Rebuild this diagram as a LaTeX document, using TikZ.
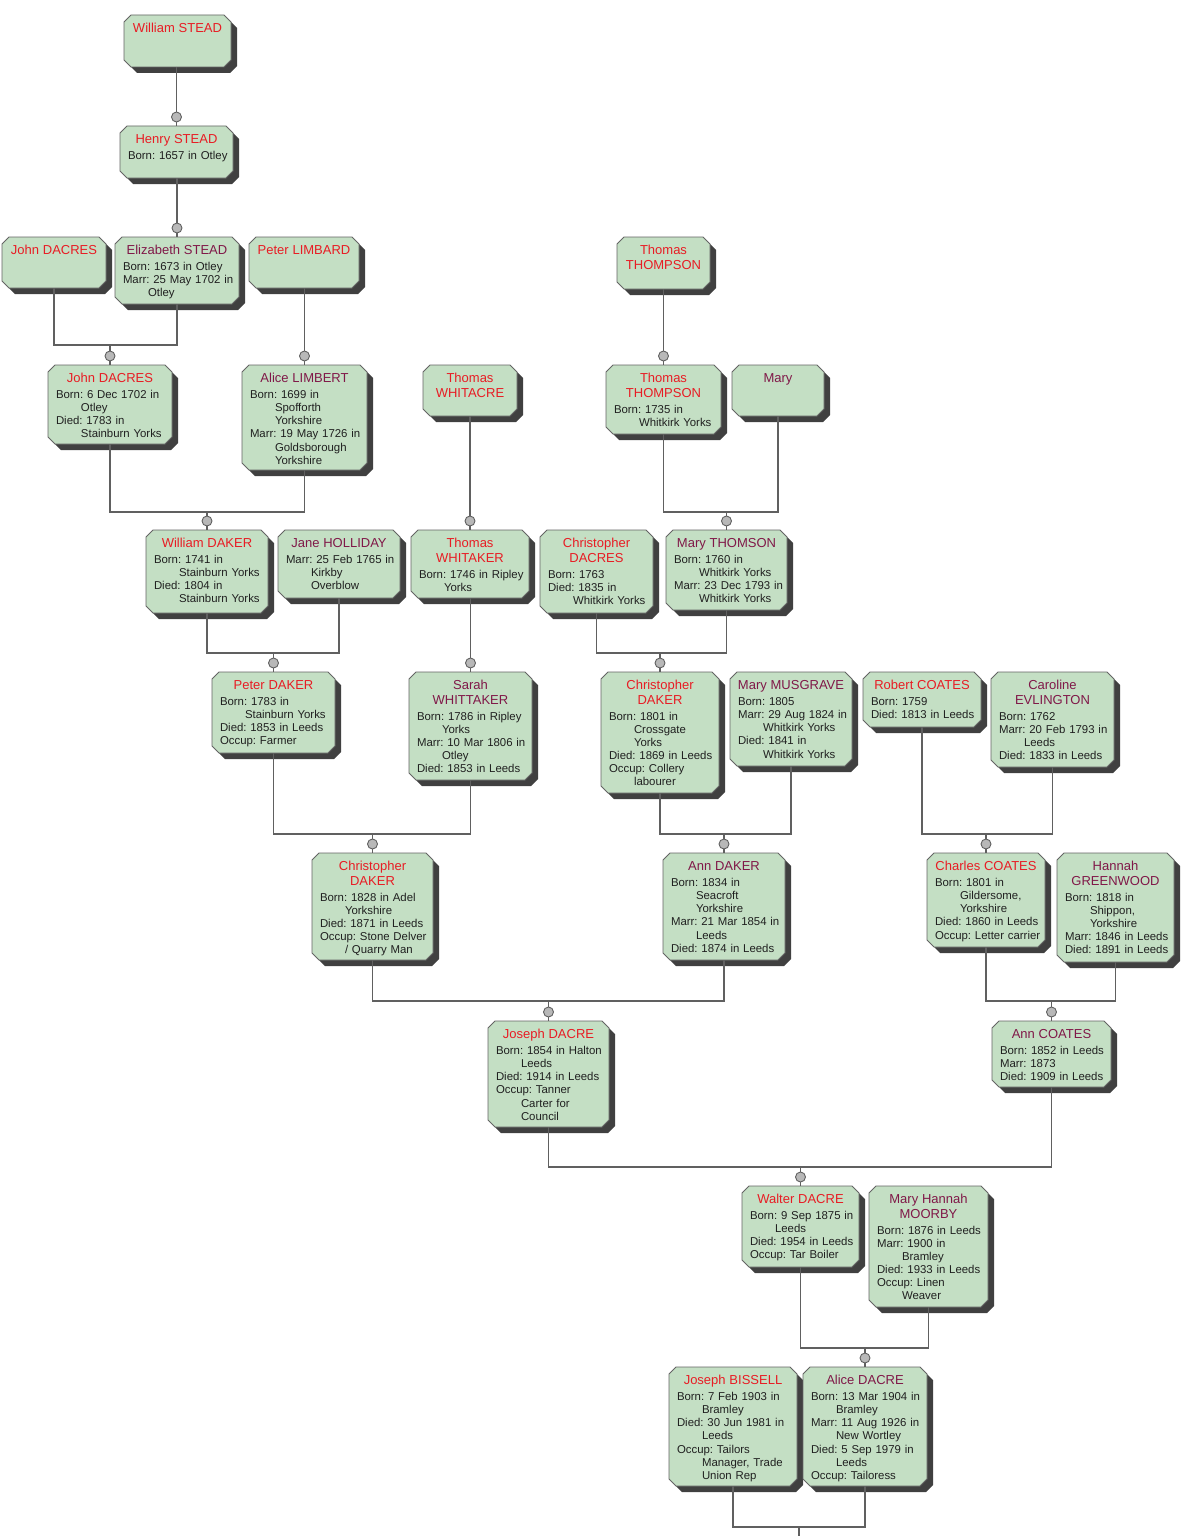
\documentclass[tikz,border=0pt]{standalone}
\usepackage{fontspec}
\setmainfont{Liberation Sans}
\definecolor{malec}{RGB}{232,28,36}
\definecolor{femc}{RGB}{128,24,72}
\definecolor{bodyc}{RGB}{32,32,32}
\definecolor{boxfill}{RGB}{196,223,196}
\definecolor{boxline}{RGB}{100,100,100}
\definecolor{shadowc}{RGB}{64,64,64}
\definecolor{connc}{RGB}{96,96,96}
\definecolor{dotfill}{RGB}{184,184,184}
\newcommand\indt{\hspace*{25pt}}
\newcommand\octa[4]{(#1+7,#2) -- (#3-7,#2) -- (#3,#2+7) -- (#3,#4-7) -- (#3-7,#4) -- (#1+7,#4) -- (#1,#4-7) -- (#1,#2+7) -- cycle}
\newcommand\person[8]{%
  \pgfmathsetmacro\pbW{#4-#2}%
  \pgfmathsetmacro\pbH{#5-#3}%
  \pgfmathsetmacro\pbT{#4-#2+80}%
  \pgfmathsetmacro\pbX{(#2+#4)/2}%
  \pgfmathsetmacro\pbY{(#3+#5)/2}%
  \fill[shadowc, shift={(6,6)}] \octa{#2}{#3}{#4}{#5};
  \filldraw[fill=boxfill, draw=boxline, line width=0.8pt] \octa{#2}{#3}{#4}{#5};
  \node[pbox, minimum width=\pbW pt, minimum height=\pbH pt] (#1) at (\pbX,\pbY) {};
  \node[ptext, text width=\pbT pt] (#1-t) at (\pbX,#3+17.6) {{\fontsize{13}{14.7}\selectfont\centering\color{#6}#7\par}\vskip2.9pt{\raggedright\leftskip=48pt #8\par}};
}
\newcommand\couple[5]{%
  \coordinate (#1) at (#4.north |- 0,#5);
  \draw[conn] (#2.south) |- (#1) -| (#3.south);
  \draw[conn] (#1) -- (#4.north);
}
\newcommand\single[2]{%
  \draw[conn] (#2.north |- #1.south) -- (#2.north);
}
\newcommand\pdot[1]{%
  \node[pdotstyle] (#1-d) at ([yshift=9pt]#1.north) {};
}
\begin{document}
\begin{tikzpicture}[x=1pt,y=-1pt,
  pbox/.style={rectangle, draw=none, fill=none, inner sep=0pt, outer sep=0pt},
  ptext/.style={inner sep=0pt, anchor=base, text=bodyc, font=\fontsize{11.4}{13.1}\selectfont\frenchspacing},
  conn/.style={draw=connc, line width=1.4pt},
  pdotstyle/.style={circle, minimum size=10pt, inner sep=0pt, fill=dotfill, draw=connc, line width=0.9pt}]
\useasboundingbox (0,0) rectangle (1185,1536);

\person{ws}{124}{15}{231}{67}{malec}{William STEAD}{}
\person{hs}{120}{126}{233}{178}{malec}{Henry STEAD}{Born: 1657 in Otley}
\person{jdA}{2}{237}{106}{288}{malec}{John DACRES}{}
\person{es}{115}{237}{239}{304}{femc}{Elizabeth STEAD}{Born: 1673 in Otley\\Marr: 25 May 1702 in\\\indt Otley}
\person{pl}{249}{237}{359}{288}{malec}{Peter LIMBARD}{}
\person{ttA}{617}{237}{710}{289}{malec}{Thomas\\THOMPSON}{}
\person{jdB}{48}{365}{172}{444}{malec}{John DACRES}{Born: 6 Dec 1702 in\\\indt Otley\\Died: 1783 in\\\indt Stainburn Yorks}
\person{al}{242}{365}{367}{470}{femc}{Alice LIMBERT}{Born: 1699 in\\\indt Spofforth\\\indt Yorkshire\\Marr: 19 May 1726 in\\\indt Goldsborough\\\indt Yorkshire}
\person{twA}{423}{365}{517}{416}{malec}{Thomas\\WHITACRE}{}
\person{ttB}{606}{365}{721}{434}{malec}{Thomas\\THOMPSON}{Born: 1735 in\\\indt Whitkirk Yorks}
\person{mary}{732}{365}{824}{416}{femc}{Mary}{}
\person{wd}{146}{530}{268}{613}{malec}{William DAKER}{Born: 1741 in\\\indt Stainburn Yorks\\Died: 1804 in\\\indt Stainburn Yorks}
\person{jh}{278}{530}{400}{598}{femc}{Jane HOLLIDAY}{Marr: 25 Feb 1765 in\\\indt Kirkby\\\indt Overblow}
\person{twB}{411}{530}{529}{598}{malec}{Thomas\\WHITAKER}{Born: 1746 in Ripley\\\indt Yorks}
\person{cdA}{540}{530}{653}{613}{malec}{Christopher\\DACRES}{Born: 1763\\Died: 1835 in\\\indt Whitkirk Yorks}
\person{mt}{666}{530}{787}{610}{femc}{Mary THOMSON}{Born: 1760 in\\\indt Whitkirk Yorks\\Marr: 23 Dec 1793 in\\\indt Whitkirk Yorks}
\person{pd}{212}{672}{335}{753}{malec}{Peter DAKER}{Born: 1783 in\\\indt Stainburn Yorks\\Died: 1853 in Leeds\\Occup: Farmer}
\person{sw}{409}{672}{532}{780}{femc}{Sarah\\WHITTAKER}{Born: 1786 in Ripley\\\indt Yorks\\Marr: 10 Mar 1806 in\\\indt Otley\\Died: 1853 in Leeds}
\person{cdB}{601}{672}{719}{793}{malec}{Christopher\\DAKER}{Born: 1801 in\\\indt Crossgate\\\indt Yorks\\Died: 1869 in Leeds\\Occup: Collery\\\indt labourer}
\person{mm}{730}{672}{852}{766}{femc}{Mary MUSGRAVE}{Born: 1805\\Marr: 29 Aug 1824 in\\\indt Whitkirk Yorks\\Died: 1841 in\\\indt Whitkirk Yorks}
\person{rc}{863}{672}{981}{727}{malec}{Robert COATES}{Born: 1759\\Died: 1813 in Leeds}
\person{ce}{991}{672}{1114}{767}{femc}{Caroline\\EVLINGTON}{Born: 1762\\Marr: 20 Feb 1793 in\\\indt Leeds\\Died: 1833 in Leeds}
\person{cdC}{312}{853}{433}{960}{malec}{Christopher\\DAKER}{Born: 1828 in Adel\\\indt Yorkshire\\Died: 1871 in Leeds\\Occup: Stone Delver\\\indt / Quarry Man}
\person{ad}{663}{853}{785}{960}{femc}{Ann DAKER}{Born: 1834 in\\\indt Seacroft\\\indt Yorkshire\\Marr: 21 Mar 1854 in\\\indt Leeds\\Died: 1874 in Leeds}
\person{cc}{927}{853}{1045}{947}{malec}{Charles COATES}{Born: 1801 in\\\indt Gildersome,\\\indt Yorkshire\\Died: 1860 in Leeds\\Occup: Letter carrier}
\person{hg}{1057}{853}{1174}{962}{femc}{Hannah\\GREENWOOD}{Born: 1818 in\\\indt Shippon,\\\indt Yorkshire\\Marr: 1846 in Leeds\\Died: 1891 in Leeds}
\person{jdc}{488}{1021}{609}{1127}{malec}{Joseph DACRE}{Born: 1854 in Halton\\\indt Leeds\\Died: 1914 in Leeds\\Occup: Tanner\\\indt Carter for\\\indt Council}
\person{ac}{992}{1021}{1111}{1087}{femc}{Ann COATES}{Born: 1852 in Leeds\\Marr: 1873\\Died: 1909 in Leeds}
\person{wdc}{742}{1186}{859}{1267}{malec}{Walter DACRE}{Born: 9 Sep 1875 in\\\indt Leeds\\Died: 1954 in Leeds\\Occup: Tar Boiler}
\person{mhm}{869}{1186}{988}{1307}{femc}{Mary Hannah\\MOORBY}{Born: 1876 in Leeds\\Marr: 1900 in\\\indt Bramley\\Died: 1933 in Leeds\\Occup: Linen\\\indt Weaver}
\person{jb}{669}{1367}{797}{1486}{malec}{Joseph BISSELL}{Born: 7 Feb 1903 in\\\indt Bramley\\Died: 30 Jun 1981 in\\\indt Leeds\\Occup: Tailors\\\indt Manager, Trade\\\indt Union Rep}
\person{adc}{803}{1367}{927}{1486}{femc}{Alice DACRE}{Born: 13 Mar 1904 in\\\indt Bramley\\Marr: 11 Aug 1926 in\\\indt New Wortley\\Died: 5 Sep 1979 in\\\indt Leeds\\Occup: Tailoress}

% connectors
\single{ws}{hs}
\single{hs}{es}
\single{pl}{al}
\single{twA}{twB}
\single{ttA}{ttB}
\single{twB}{sw}
\couple{j1}{jdA}{es}{jdB}{345}
\couple{j2}{jdB}{al}{wd}{512}
\couple{j3}{ttB}{mary}{mt}{512}
\couple{j4}{wd}{jh}{pd}{653}
\couple{j5}{cdA}{mt}{cdB}{653}
\couple{j6}{pd}{sw}{cdC}{834}
\couple{j7}{cdB}{mm}{ad}{834}
\couple{j8}{rc}{ce}{cc}{834}
\couple{j9}{cdC}{ad}{jdc}{1001}
\couple{j10}{cc}{hg}{ac}{1001}
\couple{j11}{jdc}{ac}{wdc}{1167}
\couple{j12}{wdc}{mhm}{adc}{1348}
\coordinate (j13) at (799,1527);
\coordinate (nextgen) at (799,1540);
\draw[conn] (jb.south) |- (j13) -| (adc.south);
\draw[conn] (j13) -- (nextgen);

% dots
\pdot{hs}\pdot{es}\pdot{jdB}\pdot{al}\pdot{twB}\pdot{ttB}
\pdot{wd}\pdot{mt}\pdot{pd}\pdot{sw}\pdot{cdB}
\pdot{cdC}\pdot{ad}\pdot{cc}\pdot{jdc}\pdot{ac}\pdot{wdc}\pdot{adc}
\end{tikzpicture}
\end{document}
